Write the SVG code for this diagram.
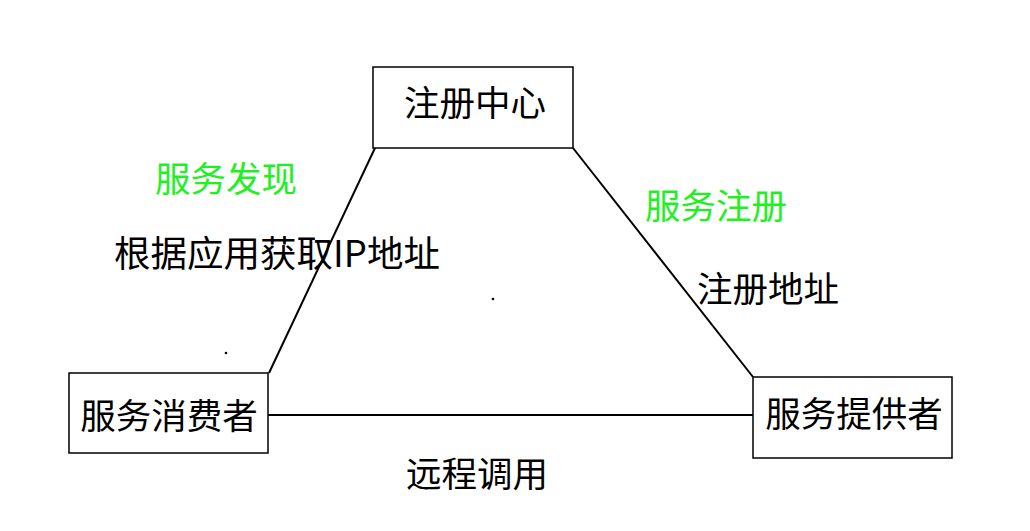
<svg xmlns="http://www.w3.org/2000/svg" width="1030" height="531" viewBox="0 0 1030 531">
<style>
.box{fill:#fff;stroke:#000;stroke-width:1.5}
.t{font-family:"Noto Sans CJK SC","Noto Sans",sans-serif;font-size:35.5px;fill:#000;text-anchor:middle;dominant-baseline:central}
.g{fill:#1ff01f}
.ln{stroke:#000;stroke-width:2;fill:none}
</style>
<rect width="1030" height="531" fill="#fff"/>
<g id="connectors">
<line class="ln" x1="375" y1="148" x2="269" y2="373"/>
<line class="ln" x1="573" y1="148" x2="753" y2="377"/>
<line class="ln" x1="268" y1="415" x2="753" y2="415"/>
</g>
<g id="registry">
<rect class="box" x="373" y="67" width="200" height="81"/>
<text class="t" x="475" y="100">注册中心</text>
</g>
<g id="consumer">
<rect class="box" x="69" y="373" width="199" height="80"/>
<text class="t" x="169" y="413">服务消费者</text>
</g>
<g id="provider">
<rect class="box" x="753" y="377" width="199" height="81"/>
<text class="t" x="854" y="411">服务提供者</text>
</g>
<g id="labels">
<text class="t g" x="226" y="176">服务发现</text>
<text class="t" x="277" y="251" style="font-size:36.5px">根据应用获取IP地址</text>
<text class="t g" x="716" y="203">服务注册</text>
<text class="t" x="768" y="286">注册地址</text>
<text class="t" x="477" y="471">远程调用</text>
<circle cx="226" cy="353" r="1.3" fill="#000"/>
<circle cx="493" cy="299" r="1.3" fill="#000"/>
</g>
</svg>
